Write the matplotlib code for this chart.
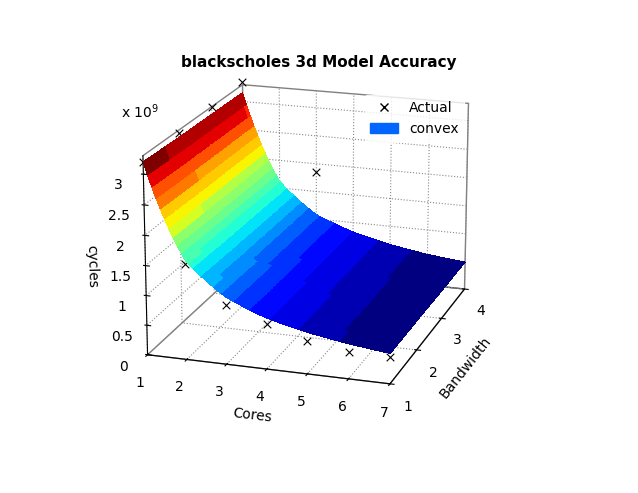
import numpy as np
import matplotlib
matplotlib.use("Agg")
import matplotlib.pyplot as plt
from matplotlib.lines import Line2D
from matplotlib.patches import Patch

cores = [1, 2, 3, 4, 5, 6, 7]
bandwidth = [1, 2, 3, 4]
# model surface (x1e9) per bandwidth row, per core
model = [
    [3.20, 1.66, 1.12, 0.85, 0.69, 0.58, 0.50],
    [3.18, 1.64, 1.10, 0.84, 0.68, 0.57, 0.50],
    [3.17, 1.63, 1.09, 0.83, 0.67, 0.57, 0.49],
    [3.16, 1.62, 1.08, 0.83, 0.67, 0.56, 0.49],
]
act_cores = [1, 1, 1, 1, 2, 2, 2, 3, 3, 3, 3, 4, 4, 4, 5, 5, 5, 6, 6, 6, 7, 7]
act_bw    = [1, 2, 3, 4, 1, 2, 3, 1, 2, 3, 4, 1, 2, 3, 1, 2, 3, 1, 2, 3, 1, 3]
act_vals  = [3.2, 3.25, 3.3, 3.35, 1.6, 1.95, 2.3, 1.0, 1.3, 1.6, 1.85, 0.75, 1.05, 1.35,
             0.55, 0.85, 1.1, 0.45, 0.7, 0.95, 0.45, 0.8]

cf = np.linspace(1, 7, 61)
bf = np.linspace(1, 4, 31)
rows = np.array([np.exp(np.interp(cf, cores, np.log(r))) for r in model])
Zf = np.array([[np.interp(b, bandwidth, rows[:, j]) for j in range(len(cf))] for b in bf])
X, Y = np.meshgrid(cf, bf)
Z = Zf * 1e9
cmap = plt.get_cmap('jet', 24)

fig = plt.figure(figsize=(6.38, 4.93), dpi=100)
ax = fig.add_axes([-0.01, 0.09, 0.98, 0.88], projection='3d')
ax.plot_surface(X, Y, Z, cmap=cmap, rstride=1, cstride=1, linewidth=0, antialiased=False,
                vmin=Z.min(), vmax=Z.max(), shade=False)
ax.scatter(act_cores, act_bw, np.array(act_vals) * 1e9, marker='x', color='black', s=30,
           linewidths=0.8, depthshade=False)
ax.set_xlim(1, 7); ax.set_ylim(1, 4); ax.set_zlim(0, 3.3e9)
ax.set_xticks(cores); ax.set_yticks(bandwidth)
ax.set_zticks(np.arange(0, 3.01e9, 0.5e9))
ax.set_zticklabels(['0', '0.5', '1', '1.5', '2', '2.5', '3'])
ax.set_xlabel('Cores'); ax.set_ylabel('Bandwidth'); ax.set_zlabel('cycles')
ax.view_init(elev=18, azim=-72)
ax.set_box_aspect((1.4, 1.6, 1.15), zoom=0.95)
ax.zaxis._axinfo['juggled'] = (1, 2, 0)
for a in (ax.xaxis, ax.yaxis, ax.zaxis):
    a.pane.fill = False
    a.pane.set_edgecolor('black')
    a._axinfo['grid'].update(color='#888888', linestyle=':', linewidth=0.8)
fig.text(0.5, 0.865, 'blackscholes 3d Model Accuracy', fontweight='bold', fontsize=11, ha='center')
fig.text(0.19, 0.76, r'x 10$^9$', fontsize=10)
ax.legend(handles=[Line2D([], [], marker='x', color='black', linestyle='none', label='Actual'),
                   Patch(color='#0066ff', label='convex')],
          loc='upper right', bbox_to_anchor=(0.88, 0.83), frameon=True, edgecolor='white')
fig.savefig('out.png', dpi=100)
